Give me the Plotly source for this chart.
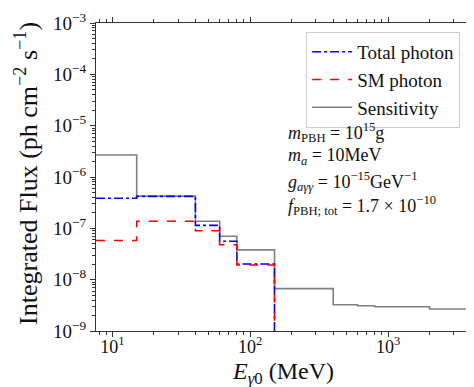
import plotly.graph_objects as go

# Bin edges (MeV)
edges = [7.6, 15, 40, 60, 80, 150, 400, 600, 800, 2000, 4000]
# Sensitivity per bin
sensitivity = [2.68e-6, 4.25e-7, 1.37e-7, 7.0e-8, 3.8e-8, 6.7e-9, 3.25e-9, 3.1e-9, 2.97e-9, 2.68e-9]
# Total photon flux per bin (up to 150 MeV, then zero)
total_photon = [3.85e-7, 4.2e-7, 1.14e-7, 5.6e-8, 2.02e-8]
# SM photon flux per bin
sm_photon = [5.8e-8, 1.37e-7, 9.0e-8, 4.8e-8, 1.93e-8]

tick_vals_y = [1e-9, 1e-8, 1e-7, 1e-6, 1e-5, 1e-4, 1e-3]
tick_text_y = ["10<sup>−9</sup>", "10<sup>−8</sup>", "10<sup>−7</sup>", "10<sup>−6</sup>",
               "10<sup>−5</sup>", "10<sup>−4</sup>", "10<sup>−3</sup>"]
tick_vals_x = [10, 100, 1000]
tick_text_x = ["10<sup>1</sup>", "10<sup>2</sup>", "10<sup>3</sup>"]

FONT = "Liberation Serif, DejaVu Serif, serif"
ZERO = 1e-20  # stands in for zero flux on log scale


def step_xy(edge_list, vals, drop_to_zero=False):
    xs = list(edge_list[:len(vals) + 1])
    ys = list(vals) + [ZERO if drop_to_zero else vals[-1]]
    return xs, ys


fig = go.Figure()

xs, ys = step_xy(edges, sensitivity)
fig.add_trace(go.Scatter(x=xs, y=ys, mode="lines", line_shape="hv",
                         line=dict(color="#808080", width=1.6),
                         name="Sensitivity", legendrank=3))
xs, ys = step_xy(edges, total_photon, drop_to_zero=True)
fig.add_trace(go.Scatter(x=xs, y=ys, mode="lines", line_shape="hv",
                         line=dict(color="#0000ff", width=1.6, dash="dashdot"),
                         name="Total photon", legendrank=1))
xs, ys = step_xy(edges, sm_photon, drop_to_zero=True)
fig.add_trace(go.Scatter(x=xs, y=ys, mode="lines", line_shape="hv",
                         line=dict(color="#ff0000", width=1.6, dash="dash"),
                         name="SM photon", legendrank=2))

axis_common = dict(
    type="log", showgrid=False, zeroline=False, showline=True, automargin=False,
    linecolor="#333333", linewidth=1.2, mirror="ticks",
    ticks="outside", ticklen=5, tickcolor="#333333",
    minor=dict(dtick="D1", ticks="outside", ticklen=2.5, tickcolor="#333333",
               showgrid=False),
)

fig.update_xaxes(**axis_common, range=[0.8808, 3.602],
                 tickvals=tick_vals_x, ticktext=tick_text_x,
                 ticklabelstandoff=-6,
                 tickfont=dict(family=FONT, size=18, color="#111111"))
fig.update_yaxes(**axis_common, range=[-9, -3],
                 tickvals=tick_vals_y, ticktext=tick_text_y,
                 tickfont=dict(family=FONT, size=19, color="#111111"))

# axis titles
fig.add_annotation(text="<i>E</i><sub><i>γ</i>0</sub> (MeV)", x=0.499, y=-0.137,
                   xref="paper", yref="paper", xanchor="center", yanchor="middle",
                   showarrow=False, font=dict(family=FONT, size=24, color="#111111"))
fig.add_annotation(text="Integrated Flux (ph cm<sup>−2</sup> s<sup>−1</sup>)",
                   x=-0.184, y=0.51, textangle=-90,
                   xref="paper", yref="paper", xanchor="center", yanchor="middle",
                   showarrow=False, font=dict(family=FONT, size=26, color="#111111"))

annots = [
    "<i>m</i><sub>PBH</sub> = 10<sup>15</sup>g",
    "<i>m</i><sub><i>a</i></sub> = 10MeV",
    "<i>g</i><sub><i>aγγ</i></sub> = 10<sup>−15</sup>GeV<sup>−1</sup>",
    "<i>f</i><sub>PBH; tot</sub> = 1.7 × 10<sup>−10</sup>",
]
ann_y = [0.643, 0.565, 0.484, 0.406]
for txt, yy in zip(annots, ann_y):
    fig.add_annotation(text=txt, x=0.507, y=yy, xref="paper", yref="paper",
                       xanchor="left", yanchor="middle", showarrow=False,
                       font=dict(family=FONT, size=18, color="#111111"))

fig.update_layout(
    width=474, height=387,
    margin=dict(l=88, r=11, t=15, b=64),
    plot_bgcolor="white", paper_bgcolor="white",
    legend=dict(x=0.971, y=0.971, xanchor="right", yanchor="top",
                bgcolor="rgba(255,255,255,0.8)", bordercolor="#cccccc", borderwidth=1,
                font=dict(family=FONT, size=19, color="#111111"),
                itemwidth=40, tracegroupgap=0),
    showlegend=True,
)

fig.write_html("out.html")
